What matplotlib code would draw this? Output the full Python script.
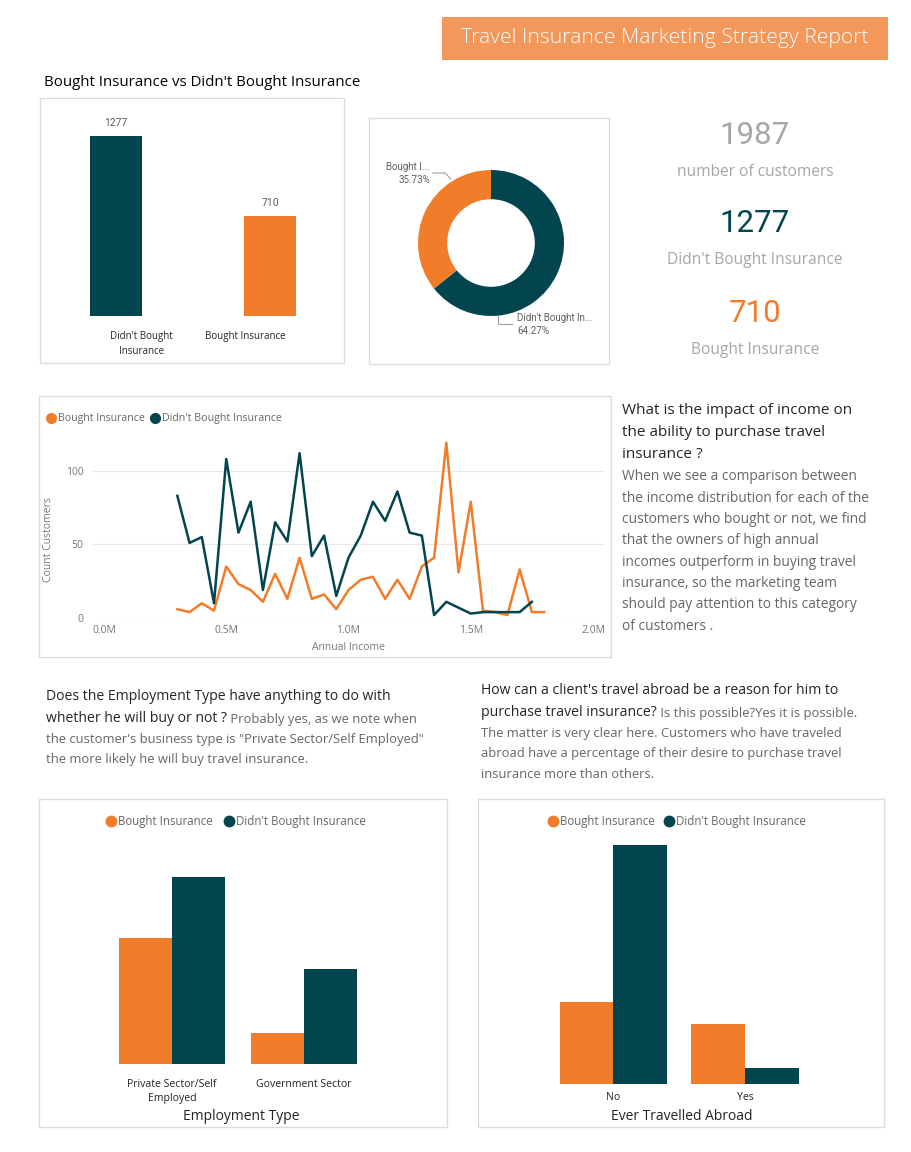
import matplotlib
matplotlib.use('Agg')
import matplotlib.pyplot as plt
from matplotlib.patches import Rectangle

# ---------------- data ----------------
status_labels = ["Didn't Bought\nInsurance", "Bought Insurance"]
status_counts = [1277, 710]
donut_labels = ["Didn't Bought In...", "Bought I..."]

income_bought_m = [0.30, 0.35, 0.40, 0.45, 0.50, 0.55, 0.60, 0.65, 0.70, 0.75,
                   0.80, 0.85, 0.90, 0.95, 1.00, 1.05, 1.10, 1.15, 1.20, 1.25,
                   1.30, 1.35, 1.40, 1.45, 1.50, 1.55, 1.60, 1.65, 1.70, 1.75, 1.80]
bought_by_income = [6, 4, 10, 5, 35, 23, 19, 11, 30, 13,
                    41, 13, 16, 6, 19, 26, 28, 13, 26, 13,
                    35, 41, 119, 31, 79, 5, 4, 2, 33, 4, 4]
income_not_m = [0.30, 0.35, 0.40, 0.45, 0.50, 0.55, 0.60, 0.65, 0.70, 0.75,
                0.80, 0.85, 0.90, 0.95, 1.00, 1.05, 1.10, 1.15, 1.20, 1.25,
                1.30, 1.35, 1.40, 1.45, 1.50, 1.55, 1.60, 1.65, 1.70, 1.75]
not_by_income = [83, 51, 55, 10, 108, 58, 79, 19, 65, 52,
                 112, 42, 56, 15, 41, 56, 79, 66, 86, 58,
                 56, 2, 11, 7, 3, 4, 4, 4, 4, 11]
income_ticks = [0.0, 0.5, 1.0, 1.5, 2.0]
count_ticks = [0, 50, 100]

employment_types = ["Private Sector/Self\nEmployed", "Government Sector"]
emp_bought = [570, 140]
emp_not = [848, 429]

abroad_labels = ["No", "Yes"]
abroad_bought = [411, 299]
abroad_not = [1196, 81]

# ---------------- style ----------------
TEAL = '#03454F'
ORANGE = '#F17C2A'
BANNER = '#F4975A'
BORDER = '#DCDCDC'
DARK = '#252423'
GRAY = '#666666'
LGRAY = '#A6A6A6'
FONT = 'Open Sans'
NUMF = 'Roboto'
plt.rcParams['font.family'] = [FONT, 'DejaVu Sans']

W, H = 912, 1152
fig = plt.figure(figsize=(W / 100, H / 100), dpi=100)
fig.patch.set_facecolor('white')

bg = fig.add_axes([0, 0, 1, 1])
bg.set_xlim(0, W)
bg.set_ylim(H, 0)
bg.axis('off')
bg.set_zorder(-1)


def ax_px(left, top, right, bottom):
    a = fig.add_axes([left / W, 1 - bottom / H, (right - left) / W, (bottom - top) / H])
    a.set_facecolor('none')
    return a


def panel(x0, y0, x1, y1):
    bg.add_patch(Rectangle((x0, y0), x1 - x0, y1 - y0, facecolor='white',
                           edgecolor=BORDER, lw=1.0))


def clean(a):
    for s in a.spines.values():
        s.set_visible(False)
    a.tick_params(length=0)


# banner
bg.add_patch(Rectangle((442, 17), 446, 43, facecolor=BANNER, edgecolor='none'))
bg.text(665, 38.5, "Travel Insurance Marketing Strategy Report", color='white',
        fontsize=15.2, fontweight='light', ha='center', va='center')

bg.text(44, 82, "Bought Insurance vs Didn't Bought Insurance", color='black',
        fontsize=10.8, ha='left', va='center')

# panels
panel(40, 98, 344, 363)
panel(369, 118, 609, 364)
panel(39, 396, 611, 657)
panel(39, 799, 447, 1127)
panel(478, 799, 884, 1127)

# ---------------- bar chart 1 ----------------
a1 = ax_px(40, 136, 344, 316)
bars = a1.bar([0, 1], status_counts, width=0.337, color=[TEAL, ORANGE])
a1.set_xlim(-0.49, 1.476)
a1.set_ylim(0, max(status_counts))
a1.bar_label(bars, padding=6, color='#605E5C', fontsize=7.5, fontfamily=NUMF)
a1.set_xticks([0.168, 0.835])
a1.set_xticklabels(status_labels, fontsize=7, color=DARK, linespacing=1.45)
a1.set_yticks([])
clean(a1)
a1.tick_params(axis='x', pad=11)

# ---------------- donut ----------------
a2 = ax_px(418, 170, 564, 316)
a2.pie(status_counts, colors=[TEAL, ORANGE], startangle=90, counterclock=False,
       wedgeprops=dict(width=0.4, edgecolor='none'))
a2.set_xlim(-1, 1)
a2.set_ylim(-1, 1)
a2.set_aspect('equal')
a2.axis('off')
tot = sum(status_counts)
pcts = [f"{v / tot * 100:.2f}%" for v in status_counts]
bg.text(430, 167, donut_labels[1], ha='right', va='center', color='#605E5C',
        fontsize=7, fontfamily=NUMF)
bg.text(430, 180, pcts[1], ha='right', va='center', color='#605E5C',
        fontsize=7, fontfamily=NUMF)
bg.plot([433, 445, 451], [173, 173, 179], color='#A0A0A0', lw=0.8)
bg.text(517, 318, donut_labels[0], ha='left', va='center', color='#605E5C',
        fontsize=7, fontfamily=NUMF)
bg.text(517, 331, pcts[0], ha='left', va='center', color='#605E5C',
        fontsize=7, fontfamily=NUMF)
bg.plot([498, 498, 512], [316, 324, 324], color='#A0A0A0', lw=0.8)

# ---------------- KPI cards ----------------
bg.text(755, 135, f"{tot}", ha='center', va='center', color=LGRAY, fontsize=22.5,
        fontfamily=NUMF)
bg.text(755, 172, "number of customers", ha='center', va='center', color=LGRAY, fontsize=11.2)
bg.text(755, 223, f"{status_counts[0]}", ha='center', va='center', color=TEAL,
        fontsize=22.5, fontfamily=NUMF)
bg.text(755, 260, "Didn't Bought Insurance", ha='center', va='center', color=LGRAY,
        fontsize=11.2)
bg.text(755, 313, f"{status_counts[1]}", ha='center', va='center', color=ORANGE,
        fontsize=22.5, fontfamily=NUMF)
bg.text(755, 350, "Bought Insurance", ha='center', va='center', color=LGRAY, fontsize=11.2)

# ---------------- line chart ----------------
a3 = ax_px(92, 434, 605, 618)
a3.plot(income_bought_m, bought_by_income, color=ORANGE, lw=1.8, clip_on=False)
a3.plot(income_not_m, not_by_income, color=TEAL, lw=1.8, clip_on=False)
a3.set_xlim(-0.049, 2.049)
a3.set_ylim(0, 125)
a3.set_xticks(income_ticks)
a3.set_xticklabels([f"{v:.1f}M" for v in income_ticks])
a3.set_yticks(count_ticks)
a3.tick_params(colors='#777777', labelsize=7.5)
a3.tick_params(axis='x', pad=5)
a3.tick_params(axis='y', pad=6)
a3.grid(axis='y', color='#E9E9E9', lw=0.8)
a3.set_axisbelow(True)
clean(a3)
bg.text(349, 647, "Annual Income", ha='center', va='center', color='#777777', fontsize=7.5)
bg.text(49, 540, "Count Customers", ha='center', va='center', color='#777777',
        fontsize=7.5, rotation=90)
bg.plot([51], [418], 'o', color=ORANGE, ms=7)
bg.text(58, 418, "Bought Insurance", ha='left', va='center', color='#666666', fontsize=7.6)
bg.plot([155], [418], 'o', color=TEAL, ms=7)
bg.text(162, 418, "Didn't Bought Insurance", ha='left', va='center', color='#666666',
        fontsize=7.7)

# ---------------- right text ----------------
head1 = ["What is the impact of income on", "the ability to purchase travel", "insurance ?"]
for i, s in enumerate(head1):
    bg.text(622, 411 + 22 * i, s, ha='left', va='center', color=DARK, fontsize=11)
body1 = ["When we see a comparison between", "the income distribution for each of the",
         "customers who bought or not, we find", "that the owners of high annual",
         "incomes outperform in buying travel", "insurance, so the marketing team",
         "should pay attention to this category", "of customers ."]
for i, s in enumerate(body1):
    bg.text(622, 477 + 21.3 * i, s, ha='left', va='center', color=GRAY, fontsize=9.9)


def mixed(x, y, dark, gray):
    t = bg.text(x, y, dark, ha='left', va='center', color=DARK, fontsize=10.1)
    if gray:
        bg.annotate(gray, xy=(1, 0), xycoords=t, ha='left', va='bottom', color=GRAY,
                    fontsize=9.4)


mixed(46, 697, "Does the Employment Type have anything to do with", "")
mixed(46, 718, "whether he will buy or not ?", " Probably yes, as we note when")
bg.text(46, 739, "the customer's business type is \"Private Sector/Self Employed\"",
        ha='left', va='center', color=GRAY, fontsize=9.4)
bg.text(46, 759, "the more likely he will buy travel insurance.",
        ha='left', va='center', color=GRAY, fontsize=9.4)

mixed(481, 691, "How can a client's travel abroad be a reason for him to", "")
mixed(481, 712, "purchase travel insurance?", " Is this possible?Yes it is possible.")
for i, s in enumerate(["The matter is very clear here. Customers who have traveled",
                       "abroad have a percentage of their desire to purchase travel",
                       "insurance more than others."]):
    bg.text(481, 733 + 20.5 * i, s, ha='left', va='center', color=GRAY, fontsize=9.4)

# ---------------- employment chart ----------------
a4 = ax_px(39, 840, 447, 1064)
xs = [0, 1]
a4.bar([x - 0.2 for x in xs], emp_bought, width=0.4, color=ORANGE)
a4.bar([x + 0.2 for x in xs], emp_not, width=0.4, color=TEAL)
a4.set_xlim(-1.008, 2.083)
a4.set_ylim(0, 1016)
a4.set_xticks(xs)
a4.set_xticklabels(employment_types, fontsize=7.6, color=DARK, linespacing=1.4)
a4.set_yticks([])
clean(a4)
a4.tick_params(axis='x', pad=10.5)
bg.text(241, 1116, "Employment Type", ha='center', va='center', color=DARK, fontsize=10)
bg.plot([111], [821], 'o', color=ORANGE, ms=7.5)
bg.text(118, 821, "Bought Insurance", ha='left', va='center', color='#666666', fontsize=8.3)
bg.plot([229], [821], 'o', color=TEAL, ms=7.5)
bg.text(236, 821, "Didn't Bought Insurance", ha='left', va='center', color='#666666',
        fontsize=8.3)

# ---------------- travel abroad chart ----------------
a5 = ax_px(478, 840, 884, 1084)
a5.bar([x - 0.2035 for x in xs], abroad_bought, width=0.407, color=ORANGE)
a5.bar([x + 0.2035 for x in xs], abroad_not, width=0.407, color=TEAL)
a5.set_xlim(-1.03, 2.057)
a5.set_ylim(0, 1221)
a5.set_xticks(xs)
a5.set_xticklabels(abroad_labels, fontsize=7.6, color=DARK)
a5.set_yticks([])
clean(a5)
a5.tick_params(axis='x', pad=5.5)
bg.text(682, 1116, "Ever Travelled Abroad", ha='center', va='center', color=DARK, fontsize=10)
bg.plot([553], [821], 'o', color=ORANGE, ms=7.5)
bg.text(560, 821, "Bought Insurance", ha='left', va='center', color='#666666', fontsize=8.3)
bg.plot([669], [821], 'o', color=TEAL, ms=7.5)
bg.text(676, 821, "Didn't Bought Insurance", ha='left', va='center', color='#666666',
        fontsize=8.3)

fig.savefig('out.png', dpi=100)
